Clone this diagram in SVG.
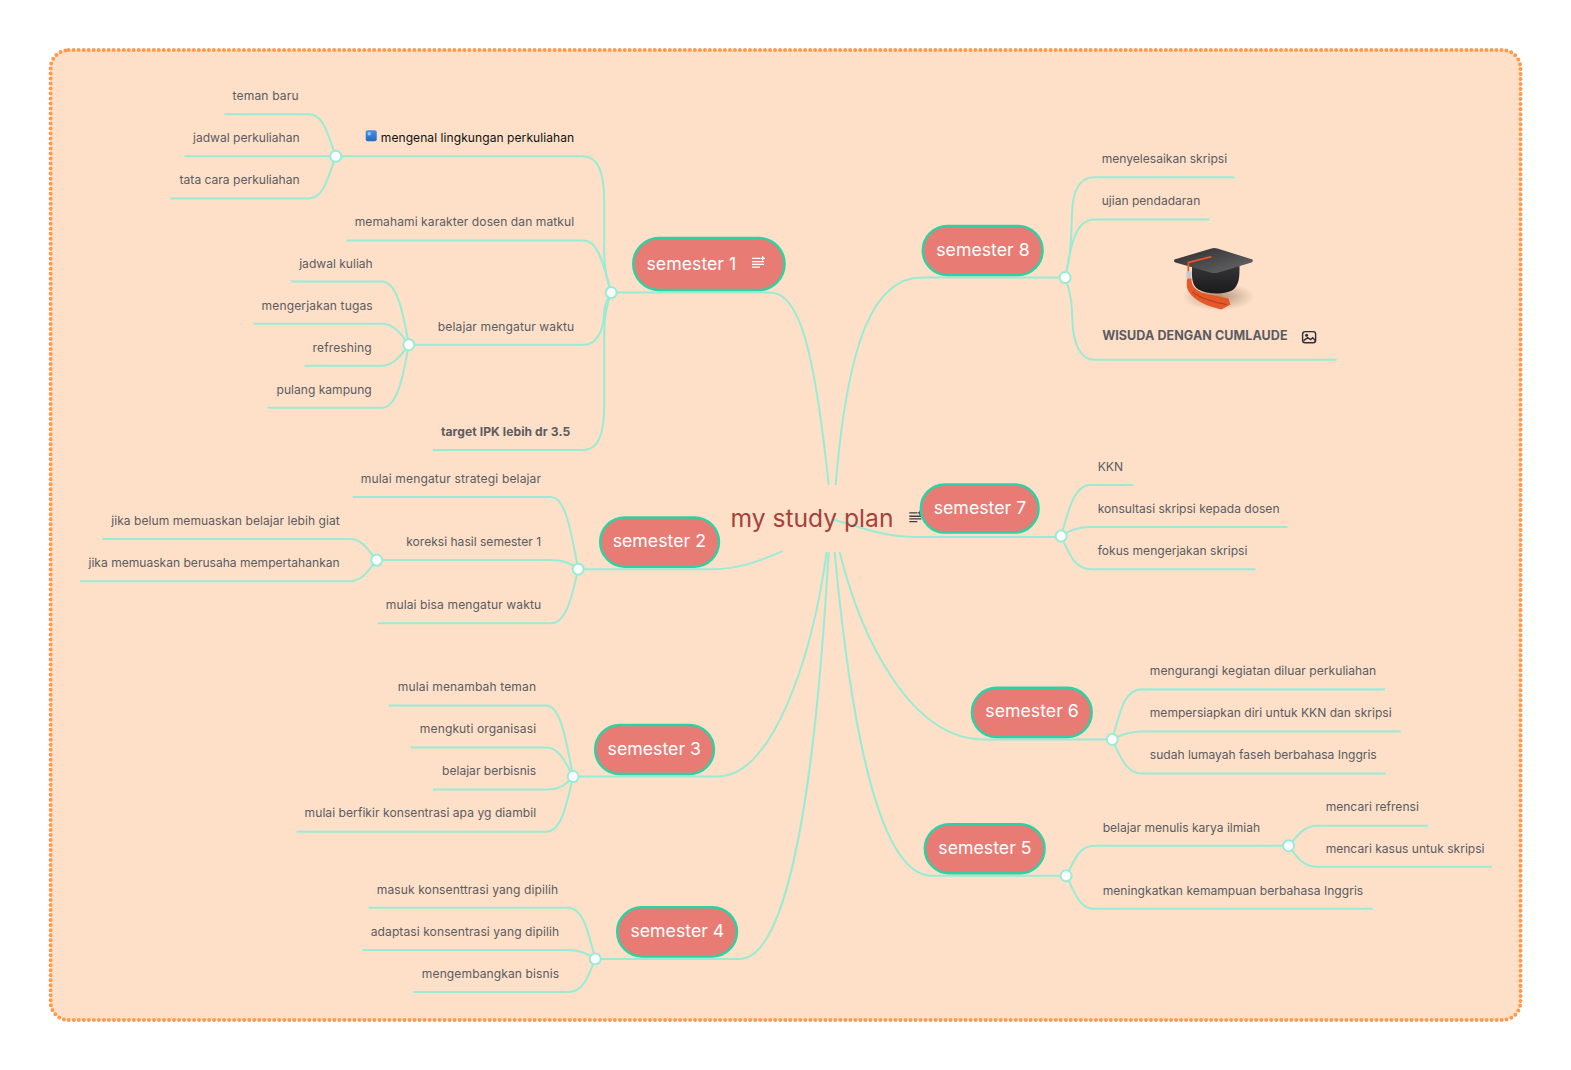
<svg xmlns="http://www.w3.org/2000/svg" width="1571" height="1070" viewBox="0 0 1571 1070">
<style>
text{font-family:"Inter","Roboto","Liberation Sans",sans-serif}
.t{font-size:12.05px;fill:#5a5c62}
.e{text-anchor:end}
.b{font-weight:700}
.p{fill:#e87c74;stroke:#2ed1a4;stroke-width:2.5}
.s{font-size:17.7px;fill:#fff;text-anchor:middle}
.c{fill:none;stroke:#98ecd5;stroke-width:2}
.h{fill:#fff;stroke:#98ecd5;stroke-width:2}
.i{fill:none;stroke-width:1.4}
</style>
<defs>
<g id="noteIcon"><path d="M0 2.300H8M0 5.700H12M0 8.300H12M0 11H8M10.700 0V4.600M8.500 2.300H12.900" fill="none" stroke="currentColor" stroke-width="1.300"/></g>
<linearGradient id="capTop" x1="0" y1="0" x2="1" y2="1"><stop offset="0" stop-color="#2c2c2e"/><stop offset="1" stop-color="#6a6a6c"/></linearGradient>
<linearGradient id="capBody" x1="0" y1="0" x2="0" y2="1"><stop offset="0" stop-color="#3a3a3c"/><stop offset="1" stop-color="#1a1a1c"/></linearGradient>
<radialGradient id="capShadow"><stop offset="0" stop-color="#a08066" stop-opacity=".8"/><stop offset="1" stop-color="#a08066" stop-opacity="0"/></radialGradient>
<linearGradient id="blue" x1="0" y1="0" x2="0" y2="1"><stop offset="0" stop-color="#4a90e2"/><stop offset="1" stop-color="#2069c4"/></linearGradient>
</defs>
<g transform="scale(1.002)">
<rect x="50.500" y="50" width="1467" height="968" rx="18" fill="#fee0c8" stroke="#ff9a4d" stroke-width="4" stroke-linecap="round" stroke-dasharray="0 5"/>
<g id="connectors">
<path class="c" d="M610 292H768C796 292 812 340 827 484"/>
<path class="c" d="M1063 277H920C872 277 846 340 834 484"/>
<path class="c" d="M577 568H710C738 568 758 560 781 550"/>
<path class="c" d="M1059 536H915C880 536 860 526 830 518"/>
<path class="c" d="M572 775H716C770 775 810 660 825 551"/>
<path class="c" d="M594 957H738C790 957 815 760 827 551"/>
<path class="c" d="M1064 874H930C870 874 845 680 833 551"/>
<path class="c" d="M1110 738H982C910 738 860 640 838 551"/>
<path class="c" d="M224 114H308C322 114 326 130 335 156"/>
<path class="c" d="M184 156H335"/>
<path class="c" d="M170 198H308C322 198 326 182 335 156"/>
<path class="c" d="M335 156H582C598 156 603 175 603 200V250C603 270 606 280 610 292"/>
<path class="c" d="M346 240H583C596 240 602 262 610 292"/>
<path class="c" d="M408 344H583C598 344 603 325 603 310C604 302 607 298 610 292"/>
<path class="c" d="M432 449H583C598 449 603 430 603 405V330C603 315 606 303 610 292"/>
<path class="c" d="M290 281H381C396 281 402 310 408 344"/>
<path class="c" d="M253 323H381C393 323 400 333 408 344"/>
<path class="c" d="M304 365H381C393 365 400 355 408 344"/>
<path class="c" d="M267 407H381C396 407 402 378 408 344"/>
<path class="c" d="M352 496H550C564 496 570 530 577 568"/>
<path class="c" d="M376 559H550C560 559 570 562 577 568"/>
<path class="c" d="M377 622H550C564 622 570 600 577 568"/>
<path class="c" d="M102 538H350C362 538 368 550 376 559"/>
<path class="c" d="M80 580H350C362 580 368 568 376 559"/>
<path class="c" d="M388 704H545C560 704 565 740 572 775"/>
<path class="c" d="M410 746H545C558 746 564 760 572 775"/>
<path class="c" d="M432 788H545C558 788 564 784 572 775"/>
<path class="c" d="M296 830H545C560 830 565 805 572 775"/>
<path class="c" d="M368 906H567C582 906 587 930 594 957"/>
<path class="c" d="M362 948H567C578 948 586 951 594 957"/>
<path class="c" d="M412 990H567C582 990 587 975 594 957"/>
<path class="c" d="M1063 277C1070 250 1069 230 1070 210C1071 190 1078 177 1092 177H1232"/>
<path class="c" d="M1063 277C1068 255 1070 219 1092 219H1207"/>
<path class="c" d="M1063 277C1072 300 1069 315 1071 330C1074 350 1082 359 1092 359H1334"/>
<path class="c" d="M1059 535C1066 510 1072 484 1088 484H1131"/>
<path class="c" d="M1059 535C1066 530 1075 526 1088 526H1285"/>
<path class="c" d="M1059 535C1066 550 1072 568 1088 568H1253"/>
<path class="c" d="M1110 738C1118 710 1122 688 1139 688H1382"/>
<path class="c" d="M1110 738C1118 734 1126 730 1139 730H1398"/>
<path class="c" d="M1110 738C1118 755 1124 772 1139 772H1383"/>
<path class="c" d="M1064 874C1072 860 1076 844 1092 844H1286"/>
<path class="c" d="M1064 874C1072 888 1076 907 1092 907H1370"/>
<path class="c" d="M1286 844C1294 836 1300 824 1315 824H1425"/>
<path class="c" d="M1286 844C1294 855 1300 865 1315 865H1489"/>
</g>
<g id="hubs">
<circle class="h" cx="335" cy="156" r="5.500"/><circle class="h" cx="610" cy="292" r="5.500"/><circle class="h" cx="408" cy="344" r="5.500"/><circle class="h" cx="577" cy="568" r="5.500"/><circle class="h" cx="376" cy="559" r="5.500"/><circle class="h" cx="572" cy="775" r="5.500"/><circle class="h" cx="594" cy="957" r="5.500"/><circle class="h" cx="1063" cy="277" r="5.500"/><circle class="h" cx="1059" cy="535" r="5.500"/><circle class="h" cx="1110" cy="738" r="5.500"/><circle class="h" cx="1064" cy="874" r="5.500"/><circle class="h" cx="1286" cy="844" r="5.500"/>
</g>
<g id="root"><text x="729" y="526" font-size="24.600" fill="#a5423c">my study plan</text><use href="#noteIcon" x="907.500" y="509.500" color="#3d3d44"/></g>
<g id="semester1"><rect class="p" x="632" y="237.500" width="151" height="52" rx="26"/><text class="s" x="690" y="269">semester 1</text><use href="#noteIcon" x="750.500" y="255.500" color="#fff"/></g>
<g id="semester2"><rect class="p" x="599" y="516.500" width="118.500" height="49" rx="24.500"/><text class="s" x="658" y="546">semester 2</text></g>
<g id="semester3"><rect class="p" x="594" y="723.500" width="118.500" height="49" rx="24.500"/><text class="s" x="653" y="753">semester 3</text></g>
<g id="semester4"><rect class="p" x="616" y="905.500" width="119.500" height="49" rx="24.500"/><text class="s" x="676" y="935">semester 4</text></g>
<g id="semester5"><rect class="p" x="923" y="822.500" width="119.500" height="49" rx="24.500"/><text class="s" x="983" y="852">semester 5</text></g>
<g id="semester6"><rect class="p" x="970" y="686.500" width="119.500" height="49" rx="24.500"/><text class="s" x="1030" y="716">semester 6</text></g>
<g id="semester7"><rect class="p" x="919" y="483.500" width="117.500" height="48" rx="24"/><text class="s" x="978" y="513">semester 7</text></g>
<g id="semester8"><rect class="p" x="921" y="225.500" width="119.500" height="49" rx="24.500"/><text class="s" x="981" y="255">semester 8</text></g>
<g id="n1"><text class="t e" x="298" y="100" textLength="66">teman baru</text></g>
<g id="n2"><text class="t e" x="299" y="142">jadwal perkuliahan</text></g>
<g id="n3"><text class="t e" x="299" y="184">tata cara perkuliahan</text></g>
<g id="n4"><rect x="365" y="130" width="11" height="11" rx="2" fill="url(#blue)"/><rect x="367" y="132" width="3" height="3" fill="#9cc4f0"/><text class="e" x="573" y="142" font-size="12.050" fill="#111" textLength="193">mengenal lingkungan perkuliahan</text></g>
<g id="n5"><text class="t e" x="573" y="226" textLength="219">memahami karakter dosen dan matkul</text></g>
<g id="n6"><text class="t e" x="372" y="267">jadwal kuliah</text></g>
<g id="n7"><text class="t e" x="372" y="309" textLength="111">mengerjakan tugas</text></g>
<g id="n8"><text class="t e" x="371" y="351" textLength="59">refreshing</text></g>
<g id="n9"><text class="t e" x="371" y="393">pulang kampung</text></g>
<g id="n10"><text class="t e" x="573" y="330" textLength="136">belajar mengatur waktu</text></g>
<g id="n11"><text class="t e b" x="569" y="435" textLength="129">target IPK lebih dr 3.5</text></g>
<g id="n12"><text class="t e" x="540" y="482" textLength="180">mulai mengatur strategi belajar</text></g>
<g id="n13"><text class="t e" x="540" y="545">koreksi hasil semester 1</text></g>
<g id="n14"><text class="t e" x="339" y="524" textLength="228">jika belum memuaskan belajar lebih giat</text></g>
<g id="n15"><text class="t e" x="339" y="566">jika memuaskan berusaha mempertahankan</text></g>
<g id="n16"><text class="t e" x="540" y="608" textLength="155">mulai bisa mengatur waktu</text></g>
<g id="n17"><text class="t e" x="535" y="690" textLength="138">mulai menambah teman</text></g>
<g id="n18"><text class="t e" x="535" y="732" textLength="116">mengkuti organisasi</text></g>
<g id="n19"><text class="t e" x="535" y="773">belajar berbisnis</text></g>
<g id="n20"><text class="t e" x="535" y="815" textLength="231">mulai berfikir konsentrasi apa yg diambil</text></g>
<g id="n21"><text class="t e" x="557" y="892" textLength="181">masuk konsenttrasi yang dipilih</text></g>
<g id="n22"><text class="t e" x="558" y="934" textLength="188">adaptasi konsentrasi yang dipilih</text></g>
<g id="n23"><text class="t e" x="558" y="976" textLength="137">mengembangkan bisnis</text></g>
<g id="n24"><text class="t" x="1099.500" y="163">menyelesaikan skripsi</text></g>
<g id="n25"><text class="t" x="1099.500" y="205">ujian pendadaran</text></g>
<g id="n26">
<ellipse cx="1216" cy="296" rx="36" ry="14" fill="url(#capShadow)"/>
<path d="M1190 262C1189 275 1189 285 1196 289C1206 295 1226 294 1232 288C1238 282 1237 272 1237 260Z" fill="url(#capBody)"/>
<path d="M1172 259L1209 248Q1212 247 1215 248L1250 259Q1251 261 1249 262L1216 272Q1212 273 1208 272L1173 262Q1171 261 1172 259Z" fill="url(#capTop)"/>
<path d="M1209 256L1186 262L1186 271" fill="none" stroke="#e0552a" stroke-width="1.800"/>
<rect x="1184" y="271" width="5" height="7" fill="#c8c8c8"/>
<path d="M1185 278L1189 278C1189 285 1192 288 1199 292L1226 298L1228 304L1219 309C1206 306 1193 301 1187 292C1184 288 1184 283 1185 278Z" fill="#e4582a"/>
<path d="M1190 291C1198 298 1210 301 1224 304" fill="none" stroke="#b53d18" stroke-width="1"/>
<text class="t b" x="1100" y="339" style="font-size:12.500px" textLength="185">WISUDA DENGAN CUMLAUDE</text>
<rect class="i" x="1300" y="331" width="13" height="11" rx="2.500" stroke="#2e2e38"/><circle cx="1304" cy="334.500" r="1.500" fill="#2e2e38"/><path class="i" stroke="#2e2e38" d="M1301 340L1305 337L1308 339L1310 337L1313 340"/>
</g>
<g id="n27"><text class="t" x="1095.500" y="470">KKN</text></g>
<g id="n28"><text class="t" x="1095.500" y="512">konsultasi skripsi kepada dosen</text></g>
<g id="n29"><text class="t" x="1095.500" y="554">fokus mengerjakan skripsi</text></g>
<g id="n30"><text class="t" x="1147.500" y="674" textLength="226">mengurangi kegiatan diluar perkuliahan</text></g>
<g id="n31"><text class="t" x="1147.500" y="716">mempersiapkan diri untuk KKN dan skripsi</text></g>
<g id="n32"><text class="t" x="1147.500" y="757" textLength="226.500">sudah lumayah faseh berbahasa Inggris</text></g>
<g id="n33"><text class="t" x="1100.500" y="830">belajar menulis karya ilmiah</text></g>
<g id="n34"><text class="t" x="1323" y="809">mencari refrensi</text></g>
<g id="n35"><text class="t" x="1323" y="851">mencari kasus untuk skripsi</text></g>
<g id="n36"><text class="t" x="1100.500" y="893" textLength="260">meningkatkan kemampuan berbahasa Inggris</text></g>
</g>
</svg>
